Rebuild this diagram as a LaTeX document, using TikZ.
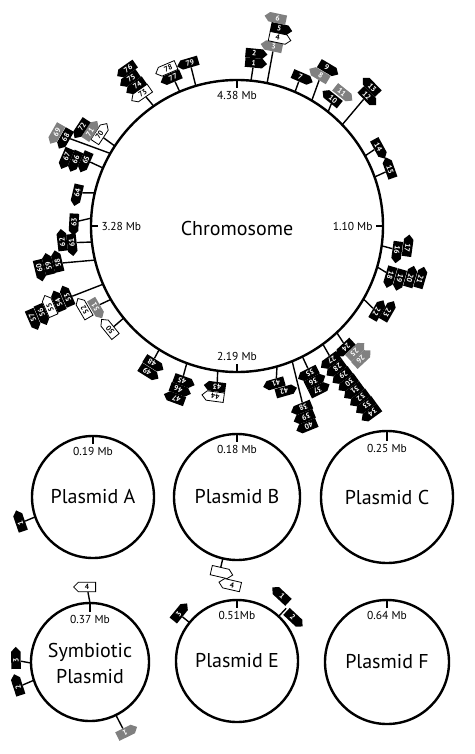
\documentclass[tikz,border=0pt]{standalone}
\usepackage{fontspec}
\setmainfont{PT Sans}
\usetikzlibrary{shapes.symbols}

\tikzset{
  gene/.style={shape=signal, minimum width=22pt, minimum height=9.5pt, inner sep=0pt,
    font=\fontsize{7.5}{7.5}\selectfont\bfseries},
  bk/.style={gene, fill=black, text=white},
  gr/.style={gene, fill=black!50, text=white},
  wh/.style={gene, fill=white, draw=black, line width=0.8pt, text=black},
  ring/.style={line width=2.4pt},
  stem/.style={line width=1.4pt},
  mb/.style={font=\fontsize{11.5}{13}\selectfont},
  plname/.style={font=\fontsize{20}{26}\selectfont, align=center},
}

\begin{document}
\begin{tikzpicture}[x=1pt,y=1pt]
\useasboundingbox (0,0) rectangle (474,-754);

\begin{scope}[shift={(237,-226)}]
\draw[ring] (0,0) circle (146);
\node[plname] (chr) at (0,-2) {Chromosome};
\node[mb, anchor=north] (c1) at (90:138) {4.38 Mb};
\node[mb, anchor=east] (c2) at (0:139) {1.10 Mb};
\node[mb, anchor=south] (c3) at (-90:138) {2.19 Mb};
\node[mb, anchor=west] (c4) at (180:139) {3.28 Mb};
\draw[stem] (90:146) -- (c1.north);
\draw[stem] (0:146) -- (c2.east);
\draw[stem] (-90:146) -- (c3.south);
\draw[stem] (180:146) -- (c4.west);

\foreach \a/\t/\r/\n/\c/\d in {
  84.5/1/164/1/bk/east, 84.5/0.5/173.5/2/bk/east,
  78.1/-1/183/3/gr/west, 78.1/1/192.5/4/wh/east, 78.1/0.5/202/5/bk/east, 78.1/-3/211.5/6/gr/west,
  66.6/-1/162/7/bk/east,
  59.2/-5/172/8/gr/west, 59.2/-4/182/9/bk/east,
  51.4/-4/159/10/bk/west, 51.4/-1.5/170/11/gr/east,
  43.9/-4/184/12/bk/east, 43.9/-6/193.5/13/bk/west,
  28.7/-1.5/162/14/bk/east,
  19.6/-1.5/163/15/bk/west,
  -7.8/2/162/16/bk/east, -7.8/-1.5/172/17/bk/west,
  -16.3/4/161/18/bk/east, -16.3/4/171/19/bk/east, -16.3/2/181/20/bk/west, -16.3/0/191/21/bk/west,
  -30/4.5/164/22/bk/west, -30/0/173.5/23/bk/west,
  -46.9/3/163/24/bk/east, -46.9/0.5/172.5/25/gr/west, -46.9/1/182/26/gr/west,
  -54/2/164/27/bk/east, -54/2/173.5/28/bk/east, -54/1.5/183/29/bk/east, -54/1/192.5/30/bk/east,
  -54/1/202/31/bk/east, -54/0.5/211.5/32/bk/east, -54/0/221/33/bk/east, -54/0/230.5/34/bk/east,
  -63.4/0.5/164/35/bk/east, -63.4/1.5/173.5/36/bk/west, -63.4/1.5/183/37/bk/west,
  -67.8/7/193/38/bk/east, -67.8/8/202.5/39/bk/east, -67.8/9/212/40/bk/east,
  -74.1/5.5/162/41/bk/east, -74.1/0/172/42/bk/west,
  -97.6/-1.5/162/43/bk/east, -97.6/-1/172/44/wh/east,
  -110.1/-1.5/164/45/bk/west, -110.1/-1/173.5/46/bk/west, -110.1/-2.5/183/47/bk/east,
  -122.2/-1/161/48/bk/west, -122.2/-1.5/171/49/bk/west,
  -140.9/-0.5/164/50/wh/east,
  -149.8/1.5/163/51/gr/west, -149.8/4/174/52/wh/east,
  -156.5/1.5/184/53/bk/east, -156.5/0.5/194/54/bk/east, -156.5/-0.5/204/55/wh/east,
  -156.5/-1.5/214/56/bk/west, -156.5/-2.5/224/57/bk/west,
  -166.5/5.5/183/58/bk/east, -166.5/5/192.5/59/bk/east, -166.5/5/202/60/bk/west,
  -173.7/1.5/166/61/bk/west, -173.7/3/175.5/62/bk/east,
  176.9/-5/163/63/bk/west,
  166.9/-4/163/64/bk/west,
  156.6/0.5/165/65/bk/west, 156.6/-3/174.5/66/bk/west, 156.6/-4/184/67/bk/west,
  150.2/-8/193/68/bk/west, 150.2/-8/203/69/gr/west,
  146.8/1/165/70/wh/east, 146.8/-2/174.5/71/gr/east, 146.8/-2/184/72/bk/west,
  124.8/-1.5/163/73/wh/west, 124.8/-1.5/172.5/74/bk/west, 124.8/-2.5/182/75/bk/west, 124.8/0.5/191.5/76/bk/west,
  113.1/-0.5/162/77/bk/west, 113.1/-1.5/172/78/wh/west,
  106.4/1/170/79/bk/west}
{
\node[\c, signal to=\d, rotate=\a-90] (g\n) at ([rotate=\a-90]\t,\r) {\n};
}

\foreach \a/\n in {84.5/1, 78.1/3, 66.6/7, 59.2/8, 51.4/10, 43.9/12, 28.7/14, 19.6/15,
  -7.8/16, -16.3/18, -30/22, -46.9/24, -54/27, -63.4/35, -67.8/38, -74.1/41,
  -97.6/43, -110.1/45, -122.2/48, -140.9/50, -149.8/51, -156.5/53, -166.5/58,
  -173.7/61, 176.9/63, 166.9/64, 156.6/65, 150.2/68, 146.8/70, 124.8/73, 113.1/77, 106.4/79}
{
\draw[stem] (\a:146) -- (g\n);
}
\end{scope}

\begin{scope}[shift={(93,-497)}]
\draw[ring] (0,0) circle (61);
\node[plname] (pa) at (0,0) {Plasmid A};
\node[mb, anchor=north] (pat) at (90:53) {0.19 Mb};
\draw[stem] (90:61) -- (pat.north);
\node[bk, signal to=east, rotate=109] (a1) at ([rotate=109]-1,77) {1};
\draw[stem] (199:61) -- (a1);
\end{scope}

\begin{scope}[shift={(237,-497)}]
\draw[ring] (0,0) circle (63);
\node[plname] (pb) at (0,0) {Plasmid B};
\node[mb, anchor=north] (pbt) at (90:55) {0.18 Mb};
\draw[stem] (90:63) -- (pbt.north);
\node[wh, signal to=west, rotate=-193] (b0) at ([rotate=-193]0,77) {};
\node[wh, signal to=west, rotate=-13] (b4) at ([rotate=-193]-15,87) {4};
\draw[stem] (-103:63) -- (b0);
\end{scope}

\begin{scope}[shift={(387,-497)}]
\draw[ring] (0,0) circle (66);
\node[plname] (pc) at (0,0) {Plasmid C};
\node[mb, anchor=north] (pct) at (90:56) {0.25 Mb};
\draw[stem] (90:66) -- (pct.north);
\end{scope}

\begin{scope}[shift={(90,-662)}]
\draw[ring] (0,0) circle (59);
\node[plname] (ps) at (0,-1) {Symbiotic\\Plasmid};
\node[mb, anchor=north] (pst) at (90:50) {0.37 Mb};
\draw[stem] (90:59) -- (pst.north);
\node[wh, signal to=west] (s4) at (-3,75) {4};
\node[bk, signal to=east, rotate=91] (s3) at ([rotate=91]3,74) {3};
\node[bk, signal to=east, rotate=108] (s2) at ([rotate=108]-1.5,76) {2};
\node[gr, signal to=west, rotate=-154] (s1) at ([rotate=-154]-0.5,79) {1};
\draw[stem] (90:59) -- (s4);
\draw[stem] (181:59) -- (s3);
\draw[stem] (198:59) -- (s2);
\draw[stem] (-64:59) -- (s1);
\end{scope}

\begin{scope}[shift={(237,-661)}]
\draw[ring] (0,0) circle (61);
\node[plname] (pe) at (0,0) {Plasmid E};
\node[mb, anchor=north] (pet) at (90:53) {0.51Mb};
\draw[stem] (90:61) -- (pet.north);
\node[bk, signal to=east, rotate=51] (e3) at ([rotate=51]0,75) {3};
\node[bk, signal to=west, rotate=-43] (e1) at ([rotate=-43]-11,78) {1};
\node[bk, signal to=east, rotate=-43] (e2) at ([rotate=-43]11,70) {2};
\coordinate (ej) at ([rotate=-43]0,72);
\draw[stem] (141:61) -- (e3);
\draw[stem] (47:61) -- (ej);
\end{scope}

\begin{scope}[shift={(387,-662)}]
\draw[ring] (0,0) circle (62);
\node[plname] (pf) at (0,0) {Plasmid F};
\node[mb, anchor=north] (pft) at (90:54) {0.64 Mb};
\draw[stem] (90:62) -- (pft.north);
\end{scope}
\end{tikzpicture}
\end{document}
